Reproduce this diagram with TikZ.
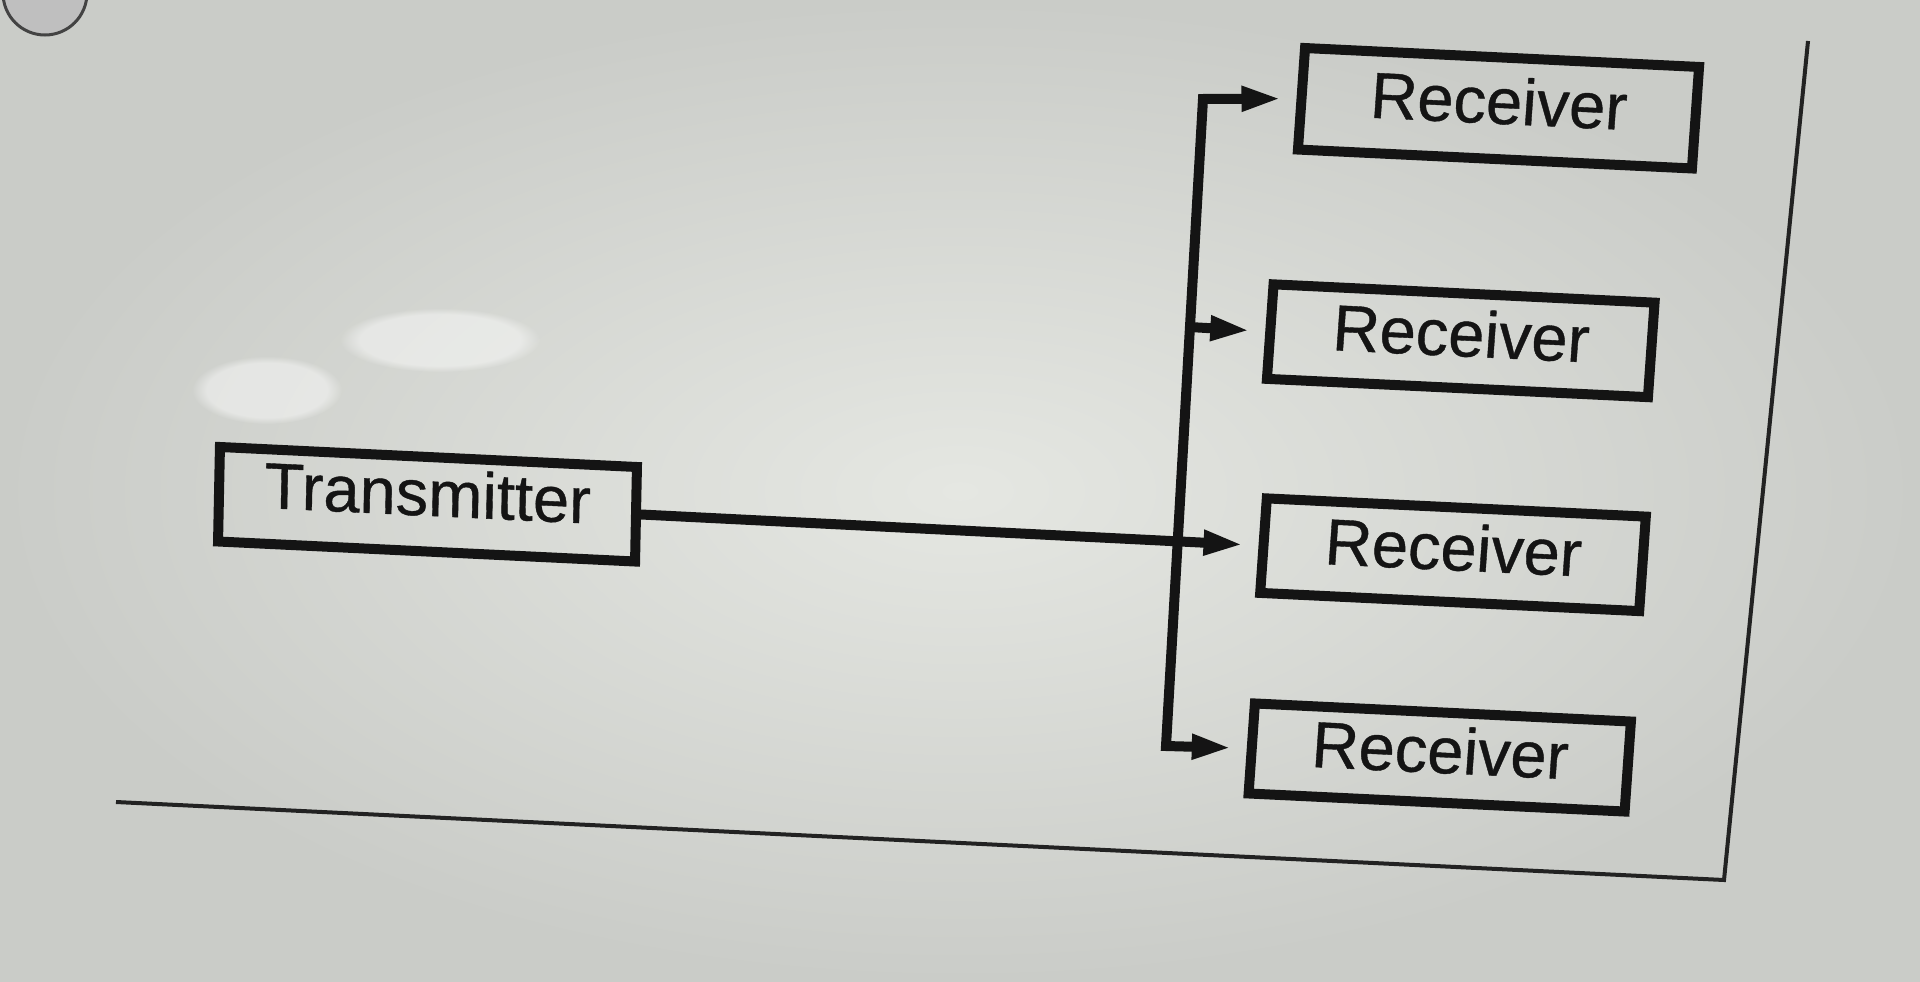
\documentclass[tikz,border=0pt]{standalone}
\usepackage{fontspec}
\setmainfont[FakeBold=0.6]{Liberation Sans}
\usetikzlibrary{arrows.meta,calc,fadings}
\definecolor{ink}{HTML}{141414}
\definecolor{bgin}{HTML}{E5E7E2}
\definecolor{bgout}{HTML}{CACCC8}
\definecolor{framecol}{HTML}{222222}
\begin{document}
\begin{tikzpicture}[x=1pt,y=-1pt,
  >={Triangle[length=40pt,width=23pt]},
  box/.style={draw=ink, line width=10pt, inner sep=0pt, text=ink,
    font=\fontsize{65pt}{78pt}\selectfont, text height=45pt, text depth=14pt},
  rx/.style={box, cm={1,-0.048,0.07,1,(0,0)}},
  tx/.style={box, cm={1,-0.048,0.02,1,(0,0)}, text depth=22pt},
  wire/.style={draw=ink, line width=10pt},
  framel/.style={draw=framecol, line width=4pt},
  glare/.style={fill=white, opacity=0.45, path fading=circle with fuzzy edge 20 percent}]
\useasboundingbox (0,0) rectangle (1920,982);
\clip (0,0) rectangle (1920,982);
% background (photographed screen)
\shade[inner color=bgin, outer color=bgout] (0,0) rectangle (1920,982);
\fill[glare] (267,390) ellipse [x radius=75pt, y radius=34pt];
\fill[glare] (440,340) ellipse [x radius=100pt, y radius=32pt];
% partial circle at the top left
\draw[draw=framecol!85, fill=black!25, line width=3pt] (45,-7) circle [radius=42pt];
% nodes
\node[tx, minimum width=417pt, minimum height=94.5pt] (T) at (427.5,504.25) {Transmitter};
\node[rx, minimum width=394pt, minimum height=101.5pt] (R1) at (1498.5,108.25) {Receiver};
\node[rx, minimum width=381pt, minimum height=94.5pt] (R2) at (1460.75,340.75) {Receiver};
\node[rx, minimum width=379pt, minimum height=94.5pt] (R3) at (1453,554.75) {Receiver};
\node[rx, minimum width=376pt, minimum height=90pt] (R4) at (1439.75,757.5) {Receiver};
% bus
\coordinate (btop) at (1203,99);
\coordinate (bbot) at (1166,746);
\draw[wire, <->, shorten <=15pt, shorten >=15pt] (R1.west) -- (btop) -- (bbot) -- (R4.west);
\draw[wire, ->, shorten >=15pt] ($(btop)!(R2.west)!(bbot)$) -- (R2.west);
\draw[wire, ->, shorten >=15pt] (T.east) -- (R3.west);
% frame lines
\coordinate (ftop) at (1808,41);
\coordinate (fcorner) at (1724,880);
\coordinate (fleft) at (116,802);
\draw[framel] (ftop) -- (fcorner) -- (fleft);
\end{tikzpicture}
\end{document}
